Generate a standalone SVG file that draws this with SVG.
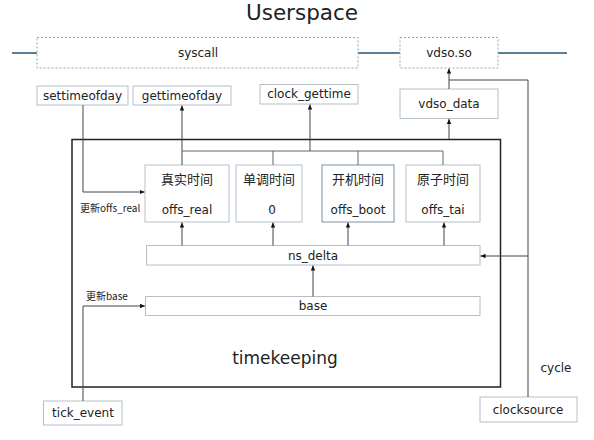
<svg xmlns="http://www.w3.org/2000/svg" width="594" height="440" viewBox="0 0 594 440">
<style>
text{font-family:"DejaVu Sans","Noto Sans CJK SC",sans-serif;fill:#222;text-anchor:middle;dominant-baseline:central}
.cjk{font-family:"Noto Sans CJK SC","DejaVu Sans",sans-serif}
.box{fill:#fff;stroke:#b3c0ca;stroke-width:1}
.dash{fill:#fff;stroke:#9aa3aa;stroke-width:1;stroke-dasharray:2,2}
.wire{fill:none;stroke:#444;stroke-width:1}
.bus{fill:none;stroke:#666;stroke-width:1}
.t12{font-size:12px}
.t13{font-size:13px}
.t10{font-size:10px;text-anchor:start}
</style>
<defs>
<marker id="ah" markerWidth="6" markerHeight="6" refX="5" refY="3" orient="auto" markerUnits="userSpaceOnUse">
<path d="M0,0.8 L5,3 L0,5.2 Z" fill="#111"/>
</marker>
</defs>
<rect width="594" height="440" fill="#fff"/>
<text x="302" y="12" style="font-size:21.5px">Userspace</text>
<g id="userspace-line">
<path d="M12,53 H37 M358,53 H400 M498,53 H567" stroke="#5b7d95" stroke-width="2" fill="none"/>
</g>
<g id="syscall"><rect class="dash" x="37" y="37.5" width="321" height="30.5"/><text class="t12" x="198" y="53">syscall</text></g>
<g id="vdso_so"><rect class="dash" x="400" y="37.5" width="98" height="30.5"/><text class="t12" x="449" y="53">vdso.so</text></g>
<g id="settimeofday"><rect class="box" x="37" y="86" width="91" height="19"/><text class="t12" x="82.5" y="95.5">settimeofday</text></g>
<g id="gettimeofday"><rect class="box" x="133" y="86" width="98" height="19"/><text class="t12" x="182" y="95.5">gettimeofday</text></g>
<g id="clock_gettime"><rect class="box" x="260" y="84.5" width="98" height="19.5"/><text class="t12" x="309" y="94">clock_gettime</text></g>
<g id="vdso_data"><rect class="box" x="400" y="89" width="98" height="29.5"/><text class="t12" x="449" y="104">vdso_data</text></g>
<g id="timekeeping">
<rect x="72" y="139.5" width="428.5" height="247.5" fill="#fff" stroke="#222" stroke-width="1.5"/>
<text x="285" y="358" style="font-size:17px">timekeeping</text>
</g>
<g id="real"><rect class="box" x="145" y="165" width="84" height="57"/><text class="cjk t13" x="187" y="178">真实时间</text><text class="t12" x="187" y="210">offs_real</text></g>
<g id="mono"><rect class="box" x="236" y="165" width="66" height="57"/><text class="cjk t13" x="269" y="178">单调时间</text><text class="t12" x="272" y="210">0</text></g>
<g id="boot"><rect class="box" x="322" y="165" width="72" height="57" style="stroke:#7890a4"/><text class="cjk t13" x="358" y="178">开机时间</text><text class="t12" x="358" y="210">offs_boot</text></g>
<g id="tai"><rect class="box" x="406" y="165" width="74" height="57"/><text class="cjk t13" x="443" y="178">原子时间</text><text class="t12" x="443" y="210">offs_tai</text></g>
<g id="ns_delta"><rect class="box" x="146.5" y="245.5" width="333.5" height="19.5"/><text class="t12" x="313" y="255.5">ns_delta</text></g>
<g id="base"><rect class="box" x="145.5" y="296.5" width="334.5" height="19"/><text class="t12" x="313" y="306">base</text></g>
<g id="tick_event"><rect class="box" x="43.5" y="401" width="78.5" height="24"/><text class="t12" x="83" y="413">tick_event</text></g>
<g id="clocksource"><rect class="box" x="480" y="397" width="97" height="25"/><text class="t12" x="528" y="410">clocksource</text></g>
<g id="connectors">
<path class="wire" d="M83,105 V192 H144.5" marker-end="url(#ah)"/>
<text class="cjk t10" x="80" y="207">更新offs_real</text>
<path class="wire" d="M182,165 V105.5" marker-end="url(#ah)"/>
<path class="bus" d="M182,151 H443 M273,165 V151 M358,165 V151 M443,165 V151"/>
<path class="wire" d="M310,151 V104.5" marker-end="url(#ah)"/>
<path class="wire" d="M449,139 V119" marker-end="url(#ah)"/>
<path class="wire" d="M449,89 V68.5" marker-end="url(#ah)"/>
<path class="wire" d="M528,397 V80 H449"/>
<path class="wire" d="M528,256 H480.5" marker-end="url(#ah)"/>
<text class="t12" x="556" y="368">cycle</text>
<path class="wire" d="M182,245.5 V222.5" marker-end="url(#ah)"/>
<path class="wire" d="M273,245.5 V222.5" marker-end="url(#ah)"/>
<path class="wire" d="M348,245.5 V222.5" marker-end="url(#ah)"/>
<path class="wire" d="M444,245.5 V222.5" marker-end="url(#ah)"/>
<path class="wire" d="M313,296.5 V265.5" marker-end="url(#ah)"/>
<path class="wire" d="M83,401 V306 H145" marker-end="url(#ah)"/>
<text class="cjk t10" x="86" y="295">更新base</text>
</g>
</svg>
